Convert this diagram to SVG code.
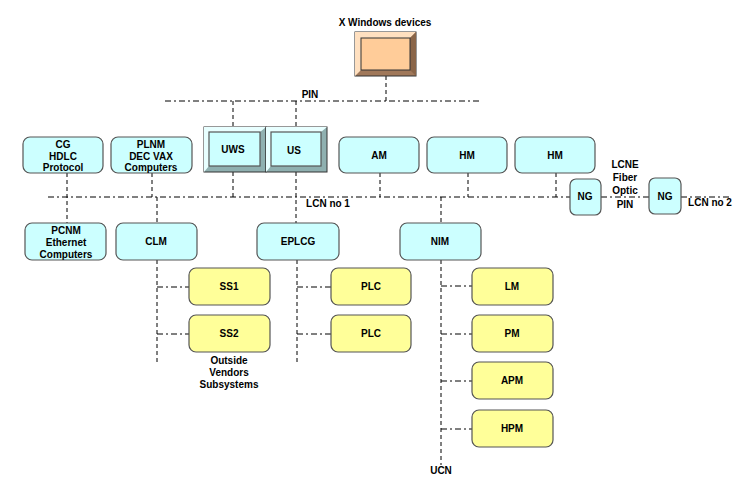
<svg xmlns="http://www.w3.org/2000/svg" width="753" height="491" viewBox="0 0 753 491">
<style>
.c{fill:#ccffff;stroke:#555;stroke-width:1.2}
.y{fill:#ffff99;stroke:#555;stroke-width:1.2}
text{font-family:"Liberation Sans",Arial,sans-serif;font-size:10px;font-weight:bold;fill:#000;text-anchor:middle}
.l{stroke:#000;stroke-width:1;fill:none;stroke-dasharray:6 3 2 3}
.d{stroke:#000;stroke-width:1;fill:none;stroke-dasharray:4 3}
</style>
<rect width="753" height="491" fill="#fff"/>
<g id="connectors">
<path class="l" d="M165 101H480M48 197H570M601 197H649M681 197H732"/>
<path class="d" d="M386 76V101M233 101V127M296 101V127M233 172V197M296 172V223M67 173V223M152 173V197M157 197V223M380 173V197M468 173V197M556 173V197M441 197V223"/>
<path class="d" d="M157 260V365M297 260V365M441 260V465"/>
<path class="l" d="M157 287H189M157 334H189M297 287H331M297 334H331M441 286H472M441 334H472M441 381H472M441 429H472"/>
</g>
<g id="xwin"><text x="385" y="26">X Windows devices</text>
<rect x="355" y="32" width="61" height="44" fill="#a0785a" stroke="#333"/>
<polygon points="355,32 416,32 410,38 361,38 361,70 355,76" fill="#ffe0c0"/>
<polygon points="416,32 416,76 410,70 410,38" fill="#8a6548"/>
<rect x="361" y="38" width="49" height="32" fill="#ffcc99" stroke="#333"/></g>
<text x="310" y="98">PIN</text>
<g id="uws"><rect x="204" y="127" width="62" height="45" fill="#8fb0b0" stroke="#333"/><polygon points="204,127 266,127 260,132 209,132 209,166 204,172" fill="#e8ffff"/><rect x="209" y="132" width="51" height="34" class="c"/><text x="233" y="153">UWS</text></g>
<g id="us"><rect x="266" y="127" width="61" height="45" fill="#8fb0b0" stroke="#333"/><polygon points="266,127 327,127 321,132 271,132 271,166 266,172" fill="#e8ffff"/><rect x="271" y="132" width="50" height="34" class="c"/><text x="294" y="154">US</text></g>
<g id="cg"><rect x="23" y="137" width="80" height="36" rx="7" class="c"/><text x="63" y="148">CG</text><text x="63" y="160">HDLC</text><text x="63" y="171">Protocol</text></g>
<g id="plnm"><rect x="111" y="137" width="81" height="36" rx="7" class="c"/><text x="151" y="148">PLNM</text><text x="151" y="160">DEC VAX</text><text x="151" y="171">Computers</text></g>
<g id="am"><rect x="339" y="137" width="80" height="36" rx="7" class="c"/><text x="379" y="159">AM</text></g>
<g id="hm1"><rect x="427" y="137" width="80" height="36" rx="7" class="c"/><text x="467" y="159">HM</text></g>
<g id="hm2"><rect x="515" y="137" width="80" height="36" rx="7" class="c"/><text x="555" y="159">HM</text></g>
<g id="ng1"><rect x="570" y="179" width="31" height="36" rx="6" class="c"/><text x="585" y="200">NG</text></g>
<g id="ng2"><rect x="649" y="178" width="32" height="36" rx="6" class="c"/><text x="665" y="200">NG</text></g>
<text x="625" y="168">LCNE</text><text x="625" y="181">Fiber</text><text x="625" y="194">Optic</text><text x="625" y="208">PIN</text>
<text x="710" y="206">LCN no 2</text>
<text x="328" y="207">LCN no 1</text>
<g id="pcnm"><rect x="25" y="223" width="81" height="37" rx="7" class="c"/><text x="66" y="234">PCNM</text><text x="66" y="246">Ethernet</text><text x="66" y="258">Computers</text></g>
<g id="clm"><rect x="116" y="223" width="81" height="37" rx="7" class="c"/><text x="156" y="245">CLM</text></g>
<g id="eplcg"><rect x="257" y="223" width="82" height="37" rx="7" class="c"/><text x="298" y="245">EPLCG</text></g>
<g id="nim"><rect x="400" y="223" width="81" height="37" rx="7" class="c"/><text x="440" y="245">NIM</text></g>
<g id="ss1"><rect x="189" y="268" width="81" height="37" rx="7" class="y"/><text x="229" y="290">SS1</text></g>
<g id="ss2"><rect x="189" y="315" width="81" height="37" rx="7" class="y"/><text x="229" y="337">SS2</text></g>
<text x="229" y="364">Outside</text><text x="229" y="376">Vendors</text><text x="229" y="388">Subsystems</text>
<g id="plc1"><rect x="331" y="268" width="80" height="37" rx="7" class="y"/><text x="371" y="290">PLC</text></g>
<g id="plc2"><rect x="331" y="315" width="80" height="37" rx="7" class="y"/><text x="371" y="337">PLC</text></g>
<g id="lm"><rect x="472" y="268" width="81" height="37" rx="7" class="y"/><text x="512" y="290">LM</text></g>
<g id="pm"><rect x="472" y="315" width="81" height="37" rx="7" class="y"/><text x="512" y="337">PM</text></g>
<g id="apm"><rect x="472" y="362" width="81" height="37" rx="7" class="y"/><text x="512" y="384">APM</text></g>
<g id="hpm"><rect x="472" y="410" width="81" height="37" rx="7" class="y"/><text x="512" y="432">HPM</text></g>
<text x="441" y="474">UCN</text>
</svg>
